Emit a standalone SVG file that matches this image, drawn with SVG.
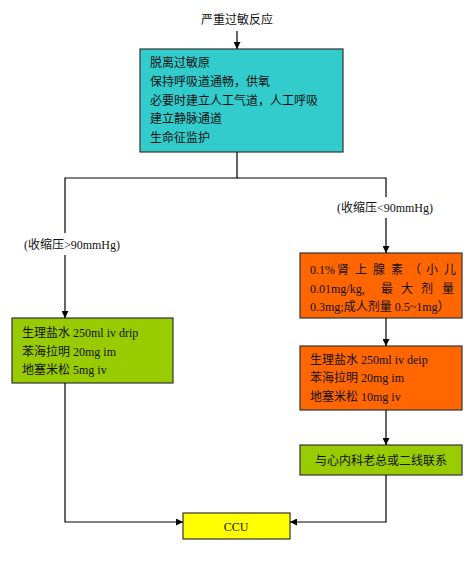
<svg xmlns="http://www.w3.org/2000/svg" width="474" height="565" viewBox="0 0 474 565">
<defs>
<marker id="ah" viewBox="0 0 10 10" refX="10" refY="5" markerWidth="7" markerHeight="7" orient="auto" markerUnits="userSpaceOnUse">
<path d="M0,0 L10,5 L0,10 z" fill="#000"/>
</marker>
<style>
.box{stroke:#333;stroke-width:1.2}
.sans{font-family:"Noto Sans CJK SC","Noto Sans",sans-serif;font-size:12px;fill:#111}
.serif{font-family:"Liberation Serif","Noto Sans CJK SC",serif;font-size:12px;fill:#111}
.ln{fill:none;stroke:#000;stroke-width:1.2}
</style>
</defs>
<rect width="474" height="565" fill="#fff"/>
<g id="title"><text class="sans" x="237" y="24" text-anchor="middle">严重过敏反应</text></g>
<g id="n-first">
<rect class="box" x="140" y="49" width="203" height="103" fill="#33CCCC"/>
<text class="sans" x="150" y="67">脱离过敏原</text>
<text class="sans" x="150" y="86">保持呼吸道通畅，供氧</text>
<text class="sans" x="150" y="105">必要时建立人工气道，人工呼吸</text>
<text class="sans" x="150" y="123">建立静脉通道</text>
<text class="sans" x="150" y="142">生命征监护</text>
</g>
<g id="n-left">
<rect class="box" x="12" y="318" width="161" height="65" fill="#99CC00"/>
<text class="serif" x="22" y="337">生理盐水 250ml iv drip</text>
<text class="serif" x="22" y="356">苯海拉明 20mg im</text>
<text class="serif" x="22" y="374">地塞米松 5mg iv</text>
</g>
<g id="n-adr">
<rect class="box" x="300" y="253" width="162" height="65" fill="#FF6600"/>
<text class="serif" y="274"><tspan x="310">0.1%</tspan><tspan x="337">肾</tspan><tspan x="355">上</tspan><tspan x="373">腺</tspan><tspan x="391">素</tspan><tspan x="409">（</tspan><tspan x="426">小</tspan><tspan x="444">儿</tspan></text>
<text class="serif" y="293"><tspan x="310">0.01mg/kg,</tspan><tspan x="381">最</tspan><tspan x="401">大</tspan><tspan x="421">剂</tspan><tspan x="442">量</tspan></text>
<text class="serif" x="310" y="311">0.3mg;成人剂量 0.5~1mg）</text>
</g>
<g id="n-right2">
<rect class="box" x="300" y="346" width="162" height="64" fill="#FF6600"/>
<text class="serif" x="310" y="364">生理盐水 250ml iv deip</text>
<text class="serif" x="310" y="382">苯海拉明 20mg im</text>
<text class="serif" x="310" y="401">地塞米松 10mg iv</text>
</g>
<g id="n-contact">
<rect class="box" x="300" y="445" width="162" height="30" fill="#99CC00"/>
<text class="sans" x="381" y="465" text-anchor="middle">与心内科老总或二线联系</text>
</g>
<g id="n-ccu">
<rect class="box" x="183" y="513" width="107" height="26" fill="#FFFF00"/>
<text class="serif" x="236" y="531" text-anchor="middle">CCU</text>
</g>
<g id="labels">
<text class="serif" x="72" y="249" text-anchor="middle">(收缩压&gt;90mmHg)</text>
<text class="serif" x="385" y="212" text-anchor="middle">(收缩压&lt;90mmHg)</text>
</g>
<g id="connectors">
<line class="ln" x1="237" y1="31" x2="237" y2="49" marker-end="url(#ah)"/>
<polyline class="ln" points="237,152 237,178 65,178 65,233"/>
<polyline class="ln" points="237,178 386,178 386,197"/>
<line class="ln" x1="65" y1="255" x2="65" y2="318" marker-end="url(#ah)"/>
<line class="ln" x1="386" y1="218" x2="386" y2="253" marker-end="url(#ah)"/>
<line class="ln" x1="386" y1="318" x2="386" y2="346" marker-end="url(#ah)"/>
<line class="ln" x1="386" y1="410" x2="386" y2="445" marker-end="url(#ah)"/>
<polyline class="ln" points="386,475 386,522 290,522" marker-end="url(#ah)"/>
<polyline class="ln" points="65,383 65,522 183,522" marker-end="url(#ah)"/>
</g>
</svg>
